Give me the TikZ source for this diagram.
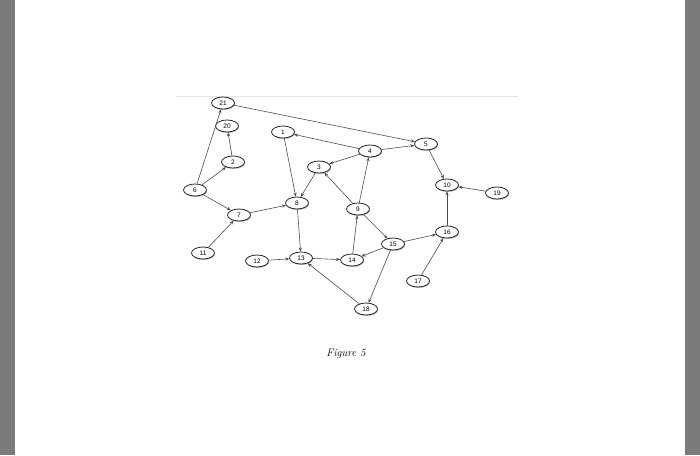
\documentclass[tikz,border=0pt]{standalone}
\usepackage{fontspec}
\newfontfamily\nodefont{Liberation Sans}
\usetikzlibrary{shapes.geometric,shadows,arrows.meta}
\definecolor{margin}{HTML}{7B7B7B}
\begin{document}
\begin{tikzpicture}[x=1pt, y=-1pt, line join=round, line cap=round,
    >={Stealth[length=4pt,width=3.2pt]},
    vertex/.style={ellipse, draw=black!85, fill=white, line width=0.8pt,
      minimum width=23pt, minimum height=12pt, inner sep=0pt,
      font=\nodefont\fontsize{6.5}{6.5}\selectfont,
      drop shadow={shadow xshift=0.7pt, shadow yshift=-1pt, opacity=0.5}},
    edge/.style={->, draw=black!70, line width=0.6pt}]
  \useasboundingbox (0,0) rectangle (700,455);
  \fill[margin] (0,0) rectangle (15,455);
  \fill[margin] (685,0) rectangle (700,455);
  \draw[black!10, line width=0.6pt] (176,96) -- (518,96);
  % vertices
  \foreach \n/\x/\y in {21/223/103, 20/227/126, 1/283/132, 5/426/144, 4/370/151,
      2/233/162, 3/319/167, 10/447/185, 19/497/193, 6/195/190, 8/297/203,
      9/358/209, 7/239/215, 16/447/232, 15/393/244, 11/203/253, 12/257/261,
      13/301/258, 14/352/260, 17/418/281, 18/366/309}
    \node[vertex] (n\n) at (\x,\y) {\n};
  % arcs
  \foreach \a/\b in {6/21, 21/5, 4/5, 6/2, 2/20, 4/1, 4/3, 1/8, 3/8, 9/3, 9/4,
      5/10, 19/10, 16/10, 6/7, 7/8, 11/7, 8/13, 12/13, 13/14, 14/9, 9/15,
      15/14, 15/16, 15/18, 18/13, 17/16}
    \draw[edge] (n\a) -- (n\b);
  \node (caption) at (346,354) {\fontsize{11}{13}\selectfont\itshape Figure 5};
\end{tikzpicture}
\end{document}
